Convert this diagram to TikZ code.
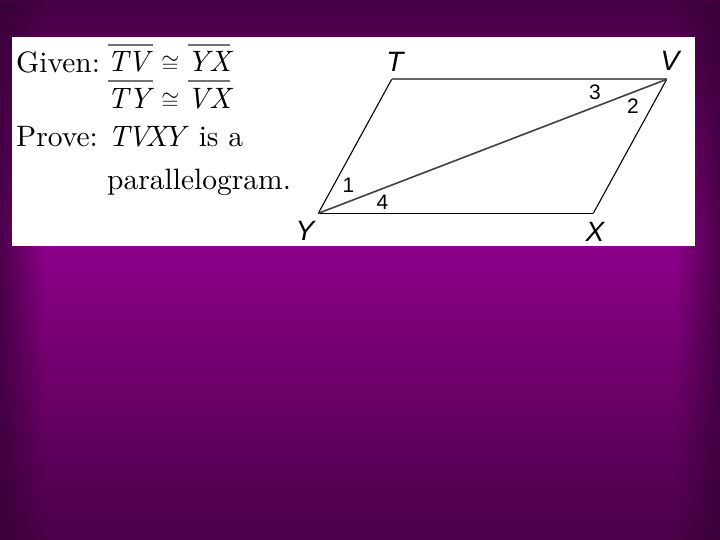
\RequirePackage{fix-cm}
\documentclass[tikz,border=0pt]{standalone}
\usepackage{fontspec}
\setmainfont{lmroman10-regular.otf}[ItalicFont=lmroman10-italic.otf, BoldFont=lmroman10-bold.otf]
\newfontfamily\lblfont{Liberation Sans}
\usetikzlibrary{fadings}
\definecolor{bgtop}{RGB}{70,0,68}
\definecolor{bgmid}{RGB}{140,0,136}
\definecolor{bgbot}{RGB}{74,0,72}
\definecolor{bgedge}{RGB}{50,0,50}
\pgfdeclareverticalshading{bgv}{100bp}{color(0bp)=(bgbot); color(25bp)=(bgbot); color(52bp)=(bgmid); color(75bp)=(bgtop); color(100bp)=(bgtop)}
\newcommand{\cngsym}{{\fontsize{23}{26}\selectfont$\cong$}}
\newcommand{\eqline}[2]{\makebox[46pt][l]{\itshape #1}\makebox[34pt][c]{\cngsym}{\itshape #2}}
\tikzset{
  txt/.style={anchor=base west, inner sep=0pt, font=\fontsize{29.5}{35}\selectfont},
  bar/.style={line width=2pt, black!55},
  vlbl/.style={inner sep=0pt, font=\lblfont\itshape\fontsize{28}{30}\selectfont},
  nlbl/.style={inner sep=0pt, font=\lblfont\fontsize{21}{24}\selectfont},
  side/.style={line width=1.1pt, black},
  topside/.style={line width=2.4pt, black!60},
  diag/.style={line width=1.6pt, black!75}
}
\begin{document}
\begin{tikzpicture}[x=1pt,y=-1pt]
\useasboundingbox (0,0) rectangle (720,540);
\shade[shading=bgv] (0,0) rectangle (720,540);
\fill[bgedge, opacity=0.7, path fading=east] (0,0) rectangle (45,540);
\fill[bgedge, opacity=0.7, path fading=west] (675,0) rectangle (720,540);
\fill[white] (12,37) rectangle (695,246);
% text
\node[txt] (given) at (16,73) {Given:};
\node[txt] (g1) at (107,72) {\eqline{T\kern-1pt V}{YX}};
\node[txt] (g2) at (107,109) {\eqline{TY}{VX}};
\draw[bar] (108,45) -- (153,45);
\draw[bar] (188,45) -- (230,45);
\draw[bar] (108,81) -- (153,81);
\draw[bar] (188,81) -- (230,81);
\node[txt] (prove) at (16,147) {Prove:};
\node[txt] (p1) at (108,147) {\textit{T\kern-2pt V\kern-4pt X\kern-4pt Y} is a};
\node[txt] (p2) at (107,190) {parallelogram.};
% figure
\coordinate (T) at (391.7,79.3);
\coordinate (V) at (666.7,79.3);
\coordinate (Y) at (318.3,213.3);
\coordinate (X) at (593.3,213.3);
\draw[topside] (T) -- (V);
\draw[side] (Y) -- (T);
\draw[side] (Y) -- (X);
\draw[side] (X) -- (V);
\draw[diag] (Y) -- (V);
\node[vlbl] (lT) at (395,62) {T};
\node[vlbl] (lV) at (670,61) {V};
\node[vlbl] (lY) at (305,230.5) {Y};
\node[vlbl] (lX) at (595,231.5) {X};
\node[nlbl] (n1) at (348.5,185.7) {1};
\node[nlbl] (n2) at (633,106.5) {2};
\node[nlbl] (n3) at (595,92.5) {3};
\node[nlbl] (n4) at (382.5,202.5) {4};
\end{tikzpicture}
\end{document}
